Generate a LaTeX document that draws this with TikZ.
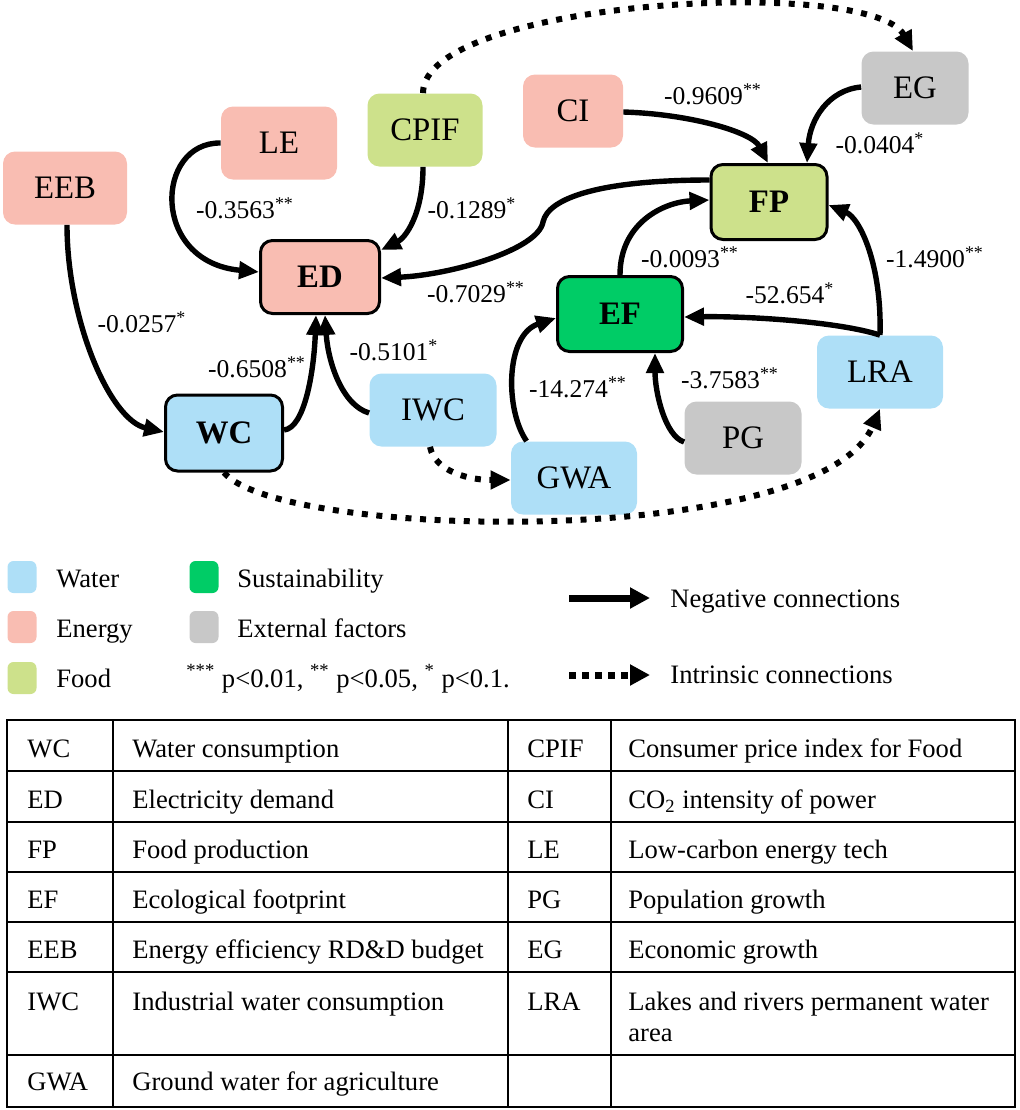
\documentclass[tikz,border=0pt]{standalone}
\usepackage{fontspec}
\setmainfont{Liberation Serif}
\usetikzlibrary{arrows.meta,calc}
\definecolor{cwater}{RGB}{174,223,247}
\definecolor{cenergy}{RGB}{249,189,178}
\definecolor{cfood}{RGB}{205,225,139}
\definecolor{csus}{RGB}{0,204,102}
\definecolor{cext}{RGB}{200,200,200}
\begin{document}
\begin{tikzpicture}[x=0.5pt,y=-0.5pt,
  box/.style={rounded corners=6pt, minimum height=36.5pt, inner sep=0pt, font=\fontsize{16.4}{18}\selectfont},
  keybox/.style={box, draw=black, line width=1.5pt, font=\fontsize{16.4}{18}\selectfont\bfseries},
  lab/.style={font=\fontsize{12.8}{14}\selectfont, inner sep=0pt},
  neg/.style={line width=2.7pt, -{Triangle[length=10pt,width=8.5pt]}},
  intr/.style={line width=3pt, dash pattern=on 3pt off 4.3pt, -{Triangle[length=10pt,width=9pt]}},
  legsq/.style={rounded corners=3pt, minimum width=14.5pt, minimum height=16pt, inner sep=0pt},
  legt/.style={font=\fontsize{13.3}{15}\selectfont, inner sep=0pt, anchor=base west},
  tbt/.style={font=\fontsize{13.3}{15}\selectfont, inner sep=0pt, anchor=base west},
  tbl/.style={line width=1pt}
]
\useasboundingbox (0,0) rectangle (1020,1110);

% nodes
\node[box,fill=cenergy,minimum width=62pt] (EEB) at (65,188) {EEB};
\node[box,fill=cenergy,minimum width=58pt] (LE) at (279,143) {LE};
\node[box,fill=cfood,minimum width=57.5pt] (CPIF) at (425,130) {CPIF};
\node[keybox,fill=cenergy,minimum width=59.5pt] (ED) at (320,277) {ED};
\node[box,fill=cenergy,minimum width=50pt] (CI) at (573,111) {CI};
\node[box,fill=cext,minimum width=53.5pt] (EG) at (915,88) {EG};
\node[keybox,fill=cfood,minimum width=58pt,minimum height=37.5pt] (FP) at (769,202) {FP};
\node[keybox,fill=cwater,minimum width=58.5pt,minimum height=38pt] (WC) at (224,433) {WC};
\node[box,fill=cwater,minimum width=63.5pt] (IWC) at (433,410) {IWC};
\node[keybox,fill=csus,minimum width=62.5pt,minimum height=37.5pt] (EF) at (620,314) {EF};
\node[box,fill=cwater,minimum width=63pt] (LRA) at (880,372) {LRA};
\node[box,fill=cext,minimum width=58.5pt] (PG) at (743,438) {PG};
\node[box,fill=cwater,minimum width=63pt] (GWA) at (574,478) {GWA};

% solid connections
\draw[neg] (LE.west) .. controls (155,142) and (150,262) .. ($(ED.west)+(0,-5)$);
\draw[neg] ($(CPIF.south)+(-2,0)$) .. controls (423,215) and (405,238) .. ($(ED.north east)+(0,11)$);
\draw[neg] ($(EEB.south)+(2,0)$) .. controls (67,320) and (110,420) .. ($(WC.west)+(0,-1)$);
\draw[neg] ($(WC.east)+(0,-3)$) .. controls (305,428) and (314,370) .. ($(ED.south)+(-4,0)$);
\draw[neg] ($(IWC.west)+(0,3)$) .. controls (342,405) and (328,362) .. ($(ED.south)+(5,0)$);
\draw[neg] ($(FP.west)+(0,-22)$) .. controls (600,180) and (548,198) .. (543,222)
   .. controls (538,250) and (450,275) .. ($(ED.east)+(0,1)$);
\draw[neg] ($(CI.east)+(0,1)$) .. controls (690,114) and (752,132) .. ($(FP.north)+(-1,0)$);
\draw[neg] ($(EG.west)+(0,-1)$) .. controls (828,90) and (810,120) .. ($(FP.north)+(38,0)$);
\draw[neg] (EF.north) .. controls (620,222) and (665,202) .. ($(FP.west)+(0,-2)$);
\draw[neg] (LRA.north) .. controls (882,265) and (860,218) .. ($(FP.east)+(0,3)$);
\draw[neg] (LRA.north) .. controls (840,322) and (750,316) .. ($(EF.east)+(0,3)$);
\draw[neg] ($(GWA.north west)+(16,0)$) .. controls (505,410) and (505,335) .. ($(EF.west)+(0,4)$);
\draw[neg] ($(PG.west)+(0,4)$) .. controls (665,436) and (655,392) .. ($(EF.south)+(35,0)$);

% intrinsic connections
\draw[intr] ($(CPIF.north)+(-2,0)$) .. controls (423,0) and (870,-25) .. ($(EG.north)+(-2,0)$);
\draw[intr] ($(IWC.south)+(-3,0)$) .. controls (435,472) and (470,480) .. ($(GWA.west)+(0,2)$);
\draw[intr] (WC.south) .. controls (280,540) and (820,550) .. (LRA.south);

% labels
\node[lab] (l1) at (245,208) {-0.3563\textsuperscript{**}};
\node[lab] (l2) at (472,208) {-0.1289\textsuperscript{*}};
\node[lab] (l3) at (142,322) {-0.0257\textsuperscript{*}};
\node[lab] (l4) at (257,367) {-0.6508\textsuperscript{**}};
\node[lab] (l5) at (394,350) {-0.5101\textsuperscript{*}};
\node[lab] (l6) at (476,292) {-0.7029\textsuperscript{**}};
\node[lab] (l7) at (713,94) {-0.9609\textsuperscript{**}};
\node[lab] (l8) at (880,143) {-0.0404\textsuperscript{*}};
\node[lab] (l9) at (690,257) {-0.0093\textsuperscript{**}};
\node[lab] (l10) at (935,257) {-1.4900\textsuperscript{**}};
\node[lab] (l11) at (790,293) {-52.654\textsuperscript{*}};
\node[lab] (l12) at (578,387) {-14.274\textsuperscript{**}};
\node[lab] (l13) at (730,378) {-3.7583\textsuperscript{**}};

% legend
\node[legsq,fill=cwater] (sqw) at (22,577) {};
\node[legsq,fill=cenergy] (sqe) at (22,627) {};
\node[legsq,fill=cfood] (sqf) at (22,678) {};
\node[legsq,fill=csus] (sqs) at (204,577) {};
\node[legsq,fill=cext] (sqx) at (204,627) {};
\node[legt] (tw) at (56,587) {Water};
\node[legt] (te) at (56,637) {Energy};
\node[legt] (tf) at (56,687) {Food};
\node[legt] (ts) at (237,587) {Sustainability};
\node[legt] (tx) at (237,637) {External factors};
\node[legt] (tp) at (186,687) {\textsuperscript{***} p<0.01, \textsuperscript{**} p<0.05, \textsuperscript{*} p<0.1.};
\coordinate (na) at (569,598); \coordinate (nb) at (650,598);
\draw[line width=3.5pt, -{Triangle[length=10pt,width=10pt]}] (na) -- (nb);
\node[legt] (tn) at (670,607) {Negative connections};
\coordinate (ia) at (569,675); \coordinate (ib) at (650,675);
\draw[intr, line width=3.5pt, dash pattern=on 3.5pt off 3pt, -{Triangle[length=10pt,width=10pt]}] (ia) -- (ib);
\node[legt] (ti) at (670,683) {Intrinsic connections};

% table
\draw[tbl] (7,720) rectangle (1015,1107);
\foreach \xx in {113,508,611} \draw[tbl] (\xx,720) -- (\xx,1107);
\foreach \yy in {771,822,872,922,972,1055} \draw[tbl] (7,\yy) -- (1015,\yy);
\node[tbt] at (27,757) {WC};
\node[tbt] at (132,757) {Water consumption};
\node[tbt] at (527,757) {CPIF};
\node[tbt] at (628,757) {Consumer price index for Food};
\node[tbt] at (27,808) {ED};
\node[tbt] at (132,808) {Electricity demand};
\node[tbt] at (527,808) {CI};
\node[tbt] at (628,808) {CO\textsubscript{2} intensity of power};
\node[tbt] at (27,858) {FP};
\node[tbt] at (132,858) {Food production};
\node[tbt] at (527,858) {LE};
\node[tbt] at (628,858) {Low-carbon energy tech};
\node[tbt] at (27,908) {EF};
\node[tbt] at (132,908) {Ecological footprint};
\node[tbt] at (527,908) {PG};
\node[tbt] at (628,908) {Population growth};
\node[tbt] at (27,958) {EEB};
\node[tbt] at (132,958) {Energy efficiency RD\&D budget};
\node[tbt] at (527,958) {EG};
\node[tbt] at (628,958) {Economic growth};
\node[tbt] at (27,1010) {IWC};
\node[tbt] at (132,1010) {Industrial water consumption};
\node[tbt] at (527,1010) {LRA};
\node[tbt] at (628,1010) {Lakes and rivers permanent water};
\node[tbt] at (628,1041) {area};
\node[tbt] at (27,1090) {GWA};
\node[tbt] at (132,1090) {Ground water for agriculture};
\end{tikzpicture}
\end{document}
